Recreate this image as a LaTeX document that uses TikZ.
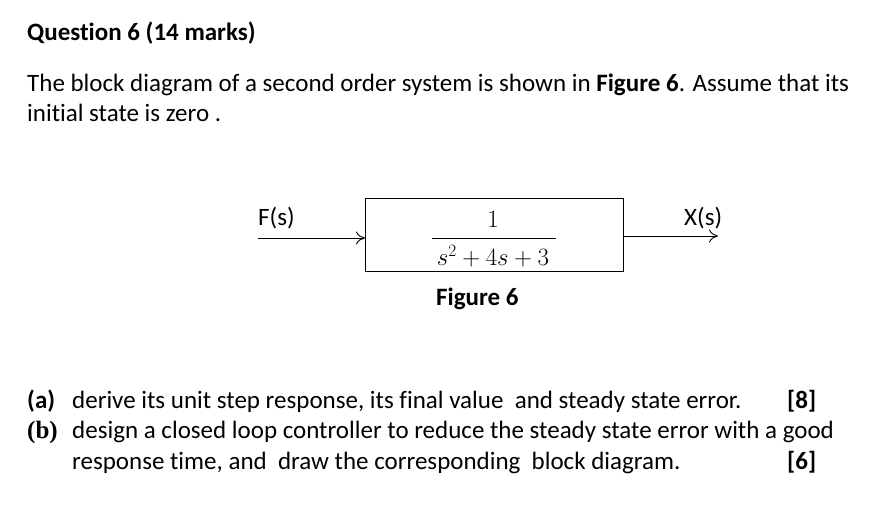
\documentclass[tikz,border=0pt]{standalone}
\usepackage{fontspec}
\setmainfont{Carlito}[RawFeature={-liga;-clig;-calt;-dlig}]
\newfontfamily\tnr{Liberation Serif}
\usetikzlibrary{arrows.meta}
\begin{document}
\begin{tikzpicture}[x=1pt,y=-1pt,
  txt/.style={anchor=base west,inner sep=0pt,font=\fontsize{25}{30}\selectfont},
  arr/.style={-{To[length=9pt,width=13pt]},line width=0.9pt}]
\useasboundingbox (0,0) rectangle (877,528);
\node[txt] (q) at (27,40) {\bfseries Question 6 (14 marks)};
\node[txt] (l1) at (27,91) {The block diagram of a second order system is shown in \textbf{Figure 6}. Assume that its};
\node[txt] (l2) at (27,121) {initial state is zero .};
\draw[line width=0.9pt] (365,198) rectangle (623,271);
\node[txt] (fs) at (258,225) {F(s)};
\node[txt] (xs) at (684,225) {X(s)};
\coordinate (fin) at (258,238);
\coordinate (bl) at (365,238);
\coordinate (br) at (623,236);
\coordinate (xout) at (718,236);
\draw[arr] (fin) -- (bl);
\draw[arr] (br) -- (xout);
\node[inner sep=0pt,font=\fontsize{25}{30}\selectfont] (num) at (493,219) {$1$};
\draw[line width=0.9pt] (432,238) -- (556,238);
\node[inner sep=0pt,font=\fontsize{25}{30}\selectfont] (den) at (493,256) {$s^2+4s+3$};
\node[txt] (fig) at (436,305) {\bfseries Figure 6};
\node[txt] (a) at (27,408) {\bfseries (a)};
\node[txt] (at) at (72,408) {derive its unit step response, its final value\ \ and steady state error.};
\node[txt] (a8) at (787,408) {\bfseries [8]};
\node[txt] (b) at (27,438) {\tnr\bfseries (b)};
\node[txt] (bt) at (72,438) {design a closed loop controller to reduce the steady state error with a good};
\node[txt] (bt2) at (72,469) {response time, and\ \ draw the corresponding\ \ block diagram.};
\node[txt] (b6) at (787,469) {\bfseries [6]};
\end{tikzpicture}
\end{document}
